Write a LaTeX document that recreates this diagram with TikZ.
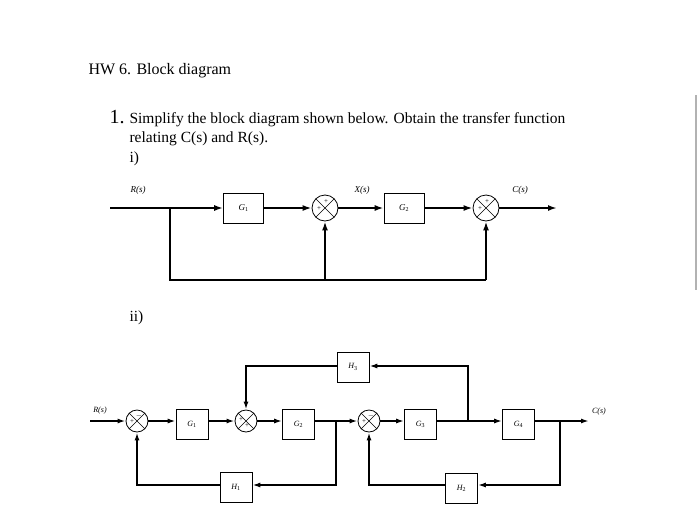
\documentclass[tikz,border=0pt]{standalone}
\usepackage{fontspec}
\setmainfont{Liberation Serif}
\usetikzlibrary{arrows.meta}
\begin{document}
\begin{tikzpicture}[x=1pt,y=-1pt,
  sig/.style={line width=2.4pt,-{Latex[length=9pt,width=6pt]}},
  ln/.style={line width=2.4pt},
  sigb/.style={line width=2pt,-{Latex[length=8pt,width=5pt]}},
  lnb/.style={line width=2pt},
  blk/.style={draw,line width=0.6pt,minimum width=40pt,minimum height=30pt,inner sep=0pt,font=\itshape\small},
  blkb/.style={draw,line width=0.6pt,minimum width=32pt,minimum height=30pt,inner sep=0pt,font=\itshape\footnotesize},
  sumj/.style={draw,circle,line width=0.8pt,minimum size=26pt,inner sep=0pt,path picture={\draw[line width=0.5pt] (path picture bounding box.north west)--(path picture bounding box.south east) (path picture bounding box.north east)--(path picture bounding box.south west);}},
  sumjb/.style={sumj,minimum size=22pt},
  lab/.style={font=\itshape\small},
  sg/.style={font=\scriptsize,inner sep=0pt}]
\useasboundingbox (0,0) rectangle (700,525);
\draw[gray!60,line width=1.5pt] (696,95) -- (696,290);
\node[anchor=base west,font=\fontsize{16}{18}\selectfont] (title) at (85,74) {HW 6. Block diagram};
\node[anchor=base west,font=\fontsize{20}{22}\selectfont] (num) at (106,123) {1.};
\node[anchor=base west,font=\fontsize{15.5}{18}\selectfont] (t1) at (126,123) {Simplify the block diagram shown below. Obtain the transfer function};
\node[anchor=base west,font=\fontsize{15.5}{18}\selectfont] (t2) at (126,142) {relating C(s) and R(s).};
\node[anchor=base west,font=\fontsize{15.5}{18}\selectfont] (t3) at (126,162) {i)};
\node[anchor=base west,font=\fontsize{15.5}{18}\selectfont] (t4) at (126,321) {ii)};
% diagram i
\coordinate (r1) at (110,208);
\coordinate (b1) at (170,208);
\node[blk] (g1) at (243.5,208) {G\textsubscript{\upshape1}};
\node[sumj] (s1) at (325,208) {};
\node[blk] (g2) at (404,208) {G\textsubscript{\upshape2}};
\node[sumj] (s2) at (486,208) {};
\coordinate (o1) at (557,208);
\coordinate (c1) at (170,280);
\coordinate (m1) at (325,280);
\coordinate (n1) at (486,280);
\node[sg] at ([xshift=-6pt,yshift=-1pt]s1.center) {+};
\node[sg] at ([xshift=1pt,yshift=6pt]s1.center) {+};
\node[sg] at ([xshift=-6pt,yshift=-1pt]s2.center) {+};
\node[sg] at ([xshift=1pt,yshift=6pt]s2.center) {+};
\draw[ln] (r1) -- (b1);
\draw[sig] (b1) -- (g1);
\draw[sig] (g1) -- (s1);
\draw[sig] (s1) -- (g2);
\draw[sig] (g2) -- (s2);
\draw[sig] (s2) -- (o1);
\draw[ln] (b1) -- (c1) -- (n1);
\draw[sig] (m1) -- (s1);
\draw[sig] (n1) -- (s2);
\node[lab] at (138,190) {R(s)};
\node[lab] at (362,190) {X(s)};
\node[lab] at (520,190) {C(s)};
% diagram ii
\coordinate (r2) at (90,421);
\node[sumjb] (sa) at (137,421) {};
\node[blkb] (h1) at (236,487) {H\textsubscript{\upshape1}};
\node[blkb] (ga) at (192,424) {G\textsubscript{\upshape1}};
\node[sumjb] (sb) at (246,421) {};
\node[blkb] (gb) at (298.5,424) {G\textsubscript{\upshape2}};
\coordinate (bb) at (336,421);
\node[sumjb] (sc) at (369,421) {};
\node[blkb] (gc) at (420.5,424) {G\textsubscript{\upshape3}};
\coordinate (bc) at (468,421);
\node[blkb] (gd) at (518.5,424) {G\textsubscript{\upshape4}};
\coordinate (bd) at (560,421);
\coordinate (o2) at (589,421);
\node[blkb] (h3) at (353,367) {H\textsubscript{\upshape3}};
\node[blkb] (h2) at (461.5,488) {H\textsubscript{\upshape2}};
\draw[sigb] (r2) -- (sa);
\draw[sigb] (sa) -- (sa -| ga.west);
\draw[sigb] (ga.east |- sb) -- (sb);
\draw[sigb] (sb) -- (sb -| gb.west);
\draw[lnb] (gb.east |- bb) -- (bb);
\draw[sigb] (bb) -- (sc);
\draw[sigb] (sc) -- (sc -| gc.west);
\draw[lnb] (gc.east |- bc) -- (bc);
\draw[sigb] (bc) -- (bc -| gd.west);
\draw[lnb] (gd.east |- bd) -- (bd);
\draw[sigb] (bd) -- (o2);
\draw[sigb] (bc) |- (h3.east |- 0,366);
\draw[sigb] (h3.west |- 0,366) -| (sb);
\draw[sigb] (bb) |- (h1.east |- 0,485);
\draw[sigb] (h1.west |- 0,485) -| (sa);
\draw[sigb] (bd) |- (h2.east |- 0,485);
\draw[sigb] (h2.west |- 0,485) -| (sc);
\foreach \s in {sa,sc}{
  \node[sg] at ([xshift=-5pt,yshift=-1pt]\s.center) {+};
  \node[sg] at ([xshift=2pt,yshift=5pt]\s.center) {$-$};}
\node[sg] at ([xshift=-5pt,yshift=1pt]sb.center) {+};
\node[sg] at ([xshift=1pt,yshift=-5pt]sb.center) {+};
\node[font=\itshape\footnotesize] at (100,411) {R(s)};
\node[font=\itshape\footnotesize] at (599,412) {C(s)};
\end{tikzpicture}
\end{document}
